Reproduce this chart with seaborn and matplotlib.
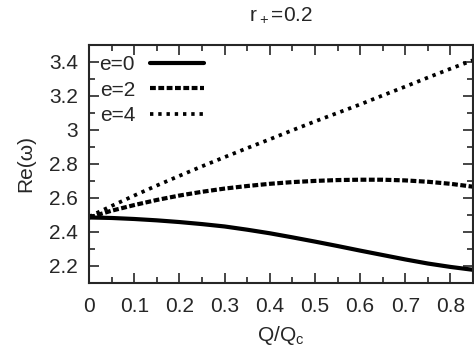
import numpy as np
import pandas as pd
import seaborn as sns
import matplotlib
matplotlib.use("Agg")
import matplotlib.pyplot as plt
from matplotlib.ticker import MultipleLocator

# values
q = [0.0, 0.05, 0.1, 0.15, 0.2, 0.25, 0.3, 0.35, 0.4, 0.45,
     0.5, 0.55, 0.6, 0.65, 0.7, 0.75, 0.8, 0.85]
re_e0 = [2.485, 2.482, 2.476, 2.468, 2.458, 2.446, 2.432, 2.413, 2.392, 2.368,
         2.343, 2.317, 2.29, 2.264, 2.238, 2.214, 2.194, 2.177]
re_e2 = [2.485, 2.525, 2.558, 2.588, 2.614, 2.636, 2.655, 2.67, 2.683, 2.693,
         2.70, 2.705, 2.707, 2.707, 2.703, 2.695, 2.683, 2.666]
re_e4 = [2.49, 2.553, 2.614, 2.673, 2.73, 2.786, 2.84, 2.893, 2.945, 2.998,
         3.05, 3.10, 3.15, 3.203, 3.255, 3.308, 3.36, 3.41]

labels = ["e=0", "e=2", "e=4"]
series = [re_e0, re_e2, re_e4]
xticks = [0, 0.1, 0.2, 0.3, 0.4, 0.5, 0.6, 0.7, 0.8]
xticklabels = ["0", "0.1", "0.2", "0.3", "0.4", "0.5", "0.6", "0.7", "0.8"]
yticks = [2.2, 2.4, 2.6, 2.8, 3.0, 3.2, 3.4]
yticklabels = ["2.2", "2.4", "2.6", "2.8", "3", "3.2", "3.4"]

sns.set_style("ticks")
plt.rcParams['font.family'] = ['Liberation Sans', 'DejaVu Sans']
plt.rcParams['axes.linewidth'] = 1.5
plt.rcParams['mathtext.fontset'] = 'custom'
plt.rcParams['mathtext.rm'] = 'Liberation Sans'

fig = plt.figure(figsize=(4.74, 3.51), dpi=100)
ax = fig.add_axes([0.188, 0.194, 0.81, 0.678])

styles = [dict(lw=3.0, linestyle='-'),
          dict(lw=3.0, linestyle=(0, (1.4, 0.6))),
          dict(lw=2.7, linestyle=(0, (0.9, 1.3)))]

for lab, vals, st in zip(labels, series, styles):
    df = pd.DataFrame({"Q": q, "Re": vals})
    sns.lineplot(data=df, x="Q", y="Re", ax=ax, color="black", label=lab, **st)

ax.set_xlim(0, 0.85)
ax.set_ylim(2.1, 3.5)
ax.xaxis.set_minor_locator(MultipleLocator(0.05))
ax.yaxis.set_minor_locator(MultipleLocator(0.1))
ax.set_xticks(xticks)
ax.set_xticklabels(xticklabels)
ax.set_yticks(yticks)
ax.set_yticklabels(yticklabels)
ax.tick_params(which='both', direction='in', top=True, right=True, labelsize=15, width=1.2)
ax.tick_params(which='major', length=7)
ax.tick_params(axis='x', which='major', pad=10)
ax.tick_params(axis='y', which='major', pad=8)
ax.tick_params(which='minor', length=4)

ax.set_xlabel("Q/Q$_\\mathrm{c}$", fontsize=15, labelpad=6)
ax.set_ylabel("Re(\u03c9)", fontsize=15, labelpad=10)
ax.set_title("r$_+$=0.2", fontsize=15, pad=18)

leg = ax.legend(loc='upper left', frameon=False, markerfirst=False, fontsize=15,
                handlelength=2.6, handletextpad=0.7, labelspacing=0.3,
                borderaxespad=0.2, borderpad=0.3)

fig.savefig("out.png", dpi=100)
